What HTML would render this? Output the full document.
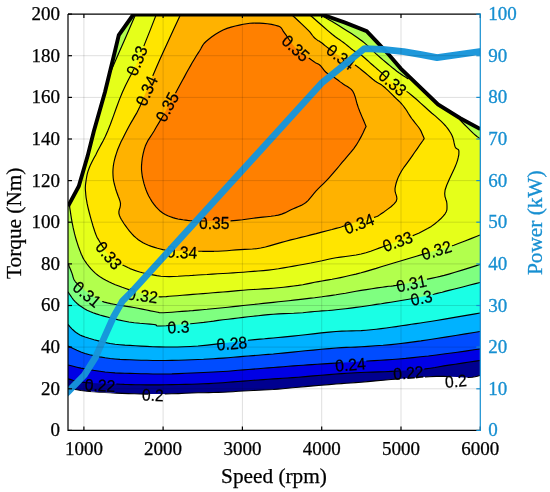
<!DOCTYPE html>
<html><head><meta charset="utf-8"><title>Efficiency map</title>
<style>html,body{margin:0;padding:0;background:#fff}svg{display:block}</style></head>
<body>
<svg width="550" height="492" viewBox="0 0 550 492">
<defs>
<clipPath id="fl"><polygon points="68.0,206.3 78.8,186.2 87.6,156.1 93.9,131.0 105.0,92.0 114.4,53.5 118.8,35.0 133.3,14.5 322.0,14.5 345.1,22.6 366.7,31.2 377.1,42.2 388.7,54.5 400.8,68.6 438.0,104.4 460.2,118.2 480.3,129.0 480.3,440.0 68.0,440.0"/></clipPath>
<clipPath id="ax"><rect x="68" y="14.1" width="412.3" height="416.29999999999995"/></clipPath>
<mask id="lm" maskUnits="userSpaceOnUse" x="0" y="0" width="550" height="492"><rect width="550" height="492" fill="#fff"/>
<rect transform="translate(136.6,60.7) rotate(-68)" x="-8.8" y="-7" width="25.0" height="14" fill="#000"/>
<rect transform="translate(146.5,90.8) rotate(-66)" x="-8.8" y="-7" width="25.0" height="14" fill="#000"/>
<rect transform="translate(167.0,107.0) rotate(-62)" x="-8.8" y="-7" width="25.0" height="14" fill="#000"/>
<rect transform="translate(295.8,48.2) rotate(42)" x="-8.8" y="-7" width="25.0" height="14" fill="#000"/>
<rect transform="translate(340.8,56.9) rotate(37)" x="-8.8" y="-7" width="25.0" height="14" fill="#000"/>
<rect transform="translate(392.7,82.7) rotate(40)" x="-8.8" y="-7" width="25.0" height="14" fill="#000"/>
<rect transform="translate(214.3,222.6) rotate(0)" x="-8.8" y="-7" width="25.0" height="14" fill="#000"/>
<rect transform="translate(182.0,252.0) rotate(3)" x="-8.8" y="-7" width="25.0" height="14" fill="#000"/>
<rect transform="translate(359.1,223.6) rotate(-20)" x="-8.8" y="-7" width="25.0" height="14" fill="#000"/>
<rect transform="translate(397.5,241.4) rotate(-20)" x="-8.8" y="-7" width="25.0" height="14" fill="#000"/>
<rect transform="translate(436.4,250.2) rotate(-17)" x="-8.8" y="-7" width="25.0" height="14" fill="#000"/>
<rect transform="translate(108.8,255.3) rotate(50)" x="-8.8" y="-7" width="25.0" height="14" fill="#000"/>
<rect transform="translate(87.1,294.3) rotate(40)" x="-8.8" y="-7" width="25.0" height="14" fill="#000"/>
<rect transform="translate(142.5,295.4) rotate(8)" x="-8.8" y="-7" width="25.0" height="14" fill="#000"/>
<rect transform="translate(178.4,326.8) rotate(-3)" x="-4.4" y="-7" width="16.3" height="14" fill="#000"/>
<rect transform="translate(411.3,283.4) rotate(-12)" x="-8.8" y="-7" width="25.0" height="14" fill="#000"/>
<rect transform="translate(421.3,297.9) rotate(-12)" x="-4.4" y="-7" width="16.3" height="14" fill="#000"/>
<rect transform="translate(231.9,343.3) rotate(-4)" x="-8.8" y="-7" width="25.0" height="14" fill="#000"/>
<rect transform="translate(350.4,364.5) rotate(-5)" x="-8.8" y="-7" width="25.0" height="14" fill="#000"/>
<rect transform="translate(100.1,385.2) rotate(3)" x="-8.8" y="-7" width="25.0" height="14" fill="#000"/>
<rect transform="translate(152.8,394.8) rotate(2)" x="-4.4" y="-7" width="16.3" height="14" fill="#000"/>
<rect transform="translate(408.3,372.7) rotate(-5)" x="-8.8" y="-7" width="25.0" height="14" fill="#000"/>
<rect transform="translate(455.9,381.0) rotate(-5)" x="-4.4" y="-7" width="16.3" height="14" fill="#000"/>
</mask>
</defs>
<rect width="550" height="492" fill="#fff"/>
<g clip-path="url(#ax)"><g clip-path="url(#fl)">
<polygon points="68.0,388.2 70.2,388.6 73.2,389.2 76.9,389.8 80.9,390.5 85.1,391.0 89.5,391.4 94.3,391.8 99.4,392.2 104.7,392.5 110.2,392.8 116.0,393.1 122.1,393.4 128.4,393.6 134.5,393.8 140.3,394.0 145.5,394.1 150.3,394.1 155.1,394.1 160.0,394.1 165.4,394.0 171.6,393.8 178.3,393.6 185.1,393.3 191.8,393.0 198.0,392.8 203.5,392.7 208.5,392.6 213.4,392.5 218.1,392.4 223.0,392.2 228.0,392.0 233.1,391.7 238.1,391.3 243.2,391.0 248.2,390.7 253.2,390.5 258.2,390.3 263.3,390.0 268.3,389.8 273.3,389.5 278.1,389.1 282.7,388.7 287.5,388.2 292.6,387.7 298.4,387.2 305.3,386.6 313.1,385.9 321.3,385.2 329.1,384.6 336.0,384.0 341.6,383.6 346.3,383.3 350.8,383.0 355.5,382.6 361.1,382.2 367.8,381.6 375.2,380.9 383.1,380.2 391.0,379.5 398.7,378.9 406.3,378.3 414.0,377.7 421.7,377.1 429.2,376.7 436.4,376.4 443.5,376.4 450.6,376.7 457.3,377.1 463.4,377.4 468.4,377.5 472.2,377.3 475.1,376.8 477.3,376.3 478.9,375.8 480.2,375.5 490.0,375.5 490.0,0.0 60.0,0.0 60.0,388.2" fill="#00008f"/>
<polygon points="68.0,378.9 70.1,379.4 72.9,380.2 76.3,381.0 80.4,381.9 85.0,382.5 90.6,382.9 97.1,383.3 104.0,383.6 110.7,383.8 116.4,384.0 120.8,384.2 124.3,384.4 127.5,384.5 131.0,384.6 135.3,384.7 140.6,384.8 146.4,384.8 152.6,384.8 159.0,384.8 165.4,384.7 171.9,384.6 178.6,384.5 185.4,384.4 191.9,384.2 198.0,384.0 203.5,383.8 208.5,383.6 213.4,383.3 218.1,383.0 223.0,382.7 228.0,382.3 233.1,381.9 238.1,381.5 243.2,381.1 248.2,380.7 253.2,380.3 258.2,380.0 263.3,379.6 268.3,379.3 273.3,378.9 278.1,378.6 282.7,378.3 287.5,378.0 292.6,377.6 298.4,377.2 305.3,376.6 313.1,375.9 321.3,375.2 329.1,374.6 336.0,374.0 341.7,373.6 346.7,373.3 351.3,373.0 356.0,372.7 361.1,372.5 366.7,372.3 372.6,372.1 378.6,371.9 384.9,371.7 391.2,371.4 397.9,371.0 405.0,370.6 412.1,370.1 418.9,369.5 425.1,368.9 430.4,368.2 435.0,367.5 439.3,366.7 443.8,365.9 448.9,365.1 455.2,364.2 462.3,363.1 469.4,362.0 475.7,361.1 480.0,360.5 490.0,360.5 490.0,0.0 60.0,0.0 60.0,378.9" fill="#0000e5"/>
<polygon points="68.0,365.0 70.2,365.5 73.2,366.3 76.9,367.2 80.9,368.1 85.1,368.9 89.6,369.7 94.6,370.5 99.8,371.3 105.1,372.0 110.2,372.5 115.1,372.9 120.0,373.1 124.9,373.3 130.0,373.4 135.3,373.5 141.0,373.7 146.9,373.8 152.9,374.0 159.1,374.0 165.4,374.0 171.9,373.9 178.6,373.6 185.4,373.3 191.9,373.0 198.0,372.7 203.5,372.5 208.5,372.3 213.4,372.0 218.1,371.8 223.0,371.5 228.0,371.2 233.1,370.8 238.1,370.3 243.2,369.9 248.2,369.5 253.2,369.1 258.2,368.7 263.3,368.3 268.3,367.9 273.3,367.5 278.3,367.1 283.3,366.7 288.4,366.3 293.4,365.9 298.4,365.5 303.1,365.2 307.5,364.9 312.0,364.6 317.2,364.3 323.4,363.9 331.2,363.4 340.2,362.8 349.8,362.2 359.1,361.5 367.4,361.0 374.4,360.6 380.5,360.2 386.3,359.9 392.2,359.5 398.7,359.0 405.7,358.4 413.0,357.6 420.6,356.8 428.4,356.0 436.4,355.0 445.4,353.8 455.5,352.5 465.4,351.1 474.0,349.8 480.0,349.0 490.0,349.0 490.0,0.0 60.0,0.0 60.0,365.0" fill="#004cff"/>
<polygon points="68.0,346.0 70.2,347.1 73.2,348.6 76.9,350.3 80.9,352.0 85.1,353.5 89.6,354.7 94.6,355.8 99.8,356.9 105.1,357.8 110.2,358.5 115.1,359.0 120.0,359.4 124.9,359.6 130.0,359.8 135.3,360.0 141.0,360.2 146.9,360.3 152.9,360.5 159.1,360.5 165.4,360.5 171.9,360.4 178.6,360.2 185.4,360.0 191.9,359.7 198.0,359.5 203.5,359.3 208.5,359.0 213.4,358.7 218.1,358.4 223.0,358.1 228.0,357.7 233.1,357.3 238.1,356.9 243.2,356.4 248.2,356.0 253.2,355.6 258.2,355.2 263.3,354.8 268.3,354.4 273.3,354.0 278.1,353.5 282.7,353.1 287.5,352.6 292.6,352.1 298.4,351.5 305.3,350.8 313.1,350.1 321.3,349.3 329.1,348.6 336.0,348.0 341.6,347.6 346.3,347.4 350.8,347.3 355.5,347.1 361.1,346.8 367.8,346.4 375.2,345.8 383.1,345.3 391.0,344.6 398.7,343.8 406.1,342.9 413.5,341.9 420.9,340.9 428.5,339.7 436.4,338.5 445.4,337.1 455.5,335.5 465.4,333.9 474.0,332.5 480.0,331.5 490.0,331.5 490.0,0.0 60.0,0.0 60.0,346.0" fill="#00b2ff"/>
<polygon points="68.0,324.5 69.0,325.6 70.3,327.1 71.9,328.8 73.7,330.5 75.4,332.0 76.9,333.1 78.4,334.1 80.0,335.0 82.1,335.9 85.1,337.0 89.1,338.3 94.0,339.7 99.4,341.1 104.9,342.5 110.2,343.5 115.1,344.2 120.0,344.7 124.9,345.1 130.0,345.4 135.3,345.7 141.0,346.1 146.9,346.4 152.9,346.7 159.1,346.9 165.4,347.0 171.5,347.0 177.4,347.0 183.6,346.8 190.3,346.5 198.0,346.0 207.3,345.1 218.0,343.9 229.1,342.6 239.5,341.3 248.2,340.3 254.8,339.6 260.0,339.1 264.5,338.8 268.7,338.4 273.3,338.0 278.1,337.5 282.7,337.1 287.5,336.6 292.6,336.1 298.4,335.5 305.3,334.7 313.1,333.9 321.3,332.9 329.1,332.1 336.0,331.5 341.8,331.1 346.9,331.0 351.7,330.9 356.3,330.8 361.1,330.6 366.1,330.2 371.1,329.7 376.2,329.2 381.2,328.6 386.2,328.0 391.2,327.3 396.2,326.6 401.3,325.8 406.3,325.1 411.3,324.3 416.0,323.6 420.5,323.0 425.0,322.3 430.2,321.5 436.4,320.5 444.6,319.1 454.6,317.4 464.8,315.6 473.8,314.1 480.0,313.0 490.0,313.0 490.0,0.0 60.0,0.0 60.0,324.5" fill="#1affe5"/>
<polygon points="68.0,291.8 68.9,293.2 70.2,295.2 71.8,297.5 73.5,299.8 75.4,301.9 77.4,303.7 79.5,305.5 81.9,307.1 84.4,308.7 87.1,310.2 90.0,311.5 93.0,312.7 96.3,313.9 99.8,315.0 103.8,316.1 108.3,317.3 113.2,318.6 118.5,319.9 123.7,321.0 128.9,322.0 134.2,322.7 139.8,323.3 145.3,323.7 150.2,324.1 154.0,324.5 156.0,324.9 156.4,325.4 156.5,325.8 157.4,326.0 160.4,326.0 166.1,325.7 173.8,325.1 182.4,324.4 190.8,323.7 198.0,323.0 203.8,322.4 208.9,321.7 213.6,321.1 218.2,320.4 223.0,319.8 228.0,319.2 233.1,318.6 238.1,318.0 243.2,317.4 248.2,316.8 253.2,316.2 258.2,315.7 263.3,315.1 268.3,314.6 273.3,314.2 278.4,313.9 283.6,313.6 288.7,313.5 293.7,313.3 298.4,313.0 302.8,312.7 306.9,312.3 310.8,311.9 314.6,311.5 318.4,311.2 322.0,310.9 325.3,310.7 328.5,310.5 332.0,310.2 336.0,309.8 340.5,309.3 345.5,308.7 350.7,308.1 356.0,307.4 361.1,306.7 366.2,306.0 371.3,305.2 376.3,304.4 381.3,303.7 386.2,302.9 390.8,302.2 395.3,301.5 399.7,300.8 404.2,300.0 408.8,299.2 413.8,298.3 419.1,297.2 424.4,296.2 429.4,295.1 433.8,294.2 437.2,293.4 439.8,292.8 442.2,292.2 445.0,291.4 448.9,290.4 454.6,289.0 461.7,287.2 469.0,285.3 475.5,283.6 480.0,282.5 490.0,282.5 490.0,0.0 60.0,0.0 60.0,291.8" fill="#7fff80"/>
<polygon points="68.0,263.4 68.6,264.8 69.3,266.8 70.3,269.0 71.2,271.3 72.0,273.4 72.6,275.2 73.0,276.8 73.5,278.4 74.2,280.0 75.4,281.8 77.2,283.7 79.3,285.8 81.8,287.9 84.4,290.0 87.0,292.0 89.7,294.0 92.4,295.9 95.3,297.8 98.3,299.6 101.3,301.0 104.4,302.1 107.5,302.9 110.7,303.6 113.9,304.2 117.2,304.8 120.4,305.4 123.7,305.9 126.9,306.4 130.3,306.9 133.9,307.5 137.9,308.3 142.2,309.1 146.6,310.0 150.6,310.9 154.0,311.5 156.4,312.0 157.9,312.3 159.3,312.6 160.9,312.7 163.5,312.7 167.3,312.5 172.0,312.2 177.1,311.8 181.9,311.4 185.9,311.1 188.8,310.9 190.9,310.7 192.7,310.6 194.9,310.4 198.0,310.1 202.2,309.7 207.1,309.3 212.4,308.7 217.8,308.2 223.0,307.7 228.0,307.2 233.1,306.6 238.1,306.1 243.2,305.5 248.2,305.0 253.2,304.5 258.2,304.0 263.3,303.4 268.3,302.9 273.3,302.4 278.4,301.8 283.6,301.3 288.7,300.7 293.7,300.1 298.4,299.6 302.8,299.1 306.9,298.6 310.8,298.1 314.6,297.7 318.4,297.2 322.0,296.8 325.3,296.3 328.5,295.9 332.0,295.4 336.0,294.8 340.5,294.0 345.5,293.2 350.7,292.2 356.0,291.3 361.1,290.4 366.4,289.6 371.9,288.7 377.2,287.9 382.1,287.2 386.2,286.6 388.8,286.3 390.3,286.2 391.4,286.1 393.1,285.9 396.2,285.4 401.3,284.4 407.7,283.2 414.7,281.8 421.6,280.4 427.6,279.1 432.3,278.1 436.4,277.2 440.2,276.4 444.2,275.4 448.9,274.1 455.0,272.3 462.1,270.1 469.3,267.9 475.6,265.9 480.0,264.5 490.0,264.5 490.0,0.0 60.0,0.0 60.0,263.4" fill="#b2ff4d"/>
<polygon points="135.4,14.0 135.7,13.5 136.3,12.2 136.7,11.5 136.3,12.5 134.6,16.7 130.7,25.7 125.1,38.7 118.8,53.0 113.2,66.1 109.2,75.3 107.3,79.9 106.7,81.7 106.9,81.7 107.4,81.1 107.5,81.0 100.0,81.0 60.0,200.0 69.5,205.9 69.8,208.1 70.3,211.2 70.8,214.7 71.4,218.4 72.0,221.8 72.6,224.9 73.2,227.9 73.9,230.9 74.6,233.9 75.4,236.9 76.3,240.0 77.3,243.2 78.3,246.3 79.4,249.2 80.4,251.9 81.3,254.2 82.2,256.1 83.0,257.9 84.1,259.7 85.4,261.7 87.0,264.0 88.9,266.4 91.0,268.9 93.2,271.2 95.5,273.4 97.9,275.3 100.4,277.1 103.1,278.7 105.9,280.3 108.8,281.8 112.0,283.3 115.3,284.7 118.8,286.0 122.2,287.3 125.6,288.5 128.8,289.6 132.0,290.7 135.2,291.7 138.3,292.6 141.5,293.5 144.8,294.3 148.0,295.1 151.3,295.9 154.6,296.4 157.8,296.8 160.7,296.9 163.4,296.8 166.2,296.6 169.3,296.3 172.9,296.0 177.3,295.7 182.2,295.3 187.5,294.9 192.8,294.4 198.0,294.0 203.0,293.6 208.0,293.2 213.0,292.8 218.0,292.4 223.0,292.0 228.0,291.6 233.1,291.1 238.1,290.6 243.2,290.2 248.2,289.8 253.2,289.5 258.2,289.2 263.3,288.9 268.3,288.6 273.3,288.2 278.4,287.7 283.6,287.2 288.7,286.6 293.7,286.0 298.4,285.4 302.8,284.7 306.9,283.9 310.8,283.1 314.6,282.3 318.4,281.6 322.0,281.0 325.3,280.4 328.5,279.9 332.0,279.3 336.0,278.5 340.5,277.6 345.5,276.5 350.7,275.3 356.0,274.1 361.1,272.8 366.1,271.4 371.1,269.9 376.2,268.4 381.2,266.8 386.2,265.3 391.2,263.8 396.2,262.3 401.3,260.8 406.3,259.3 411.3,257.8 416.4,256.2 421.7,254.6 426.9,253.1 431.9,251.6 436.4,250.2 440.2,249.1 443.5,248.3 446.6,247.4 450.0,246.5 453.9,245.2 459.0,243.3 465.0,241.0 471.0,238.6 476.3,236.5 480.0,235.0 490.0,235.0 490.0,138.6 480.0,138.6 479.3,138.1 478.3,137.4 477.0,136.5 475.5,135.3 473.6,133.6 471.0,131.1 467.8,127.9 464.4,124.5 461.5,121.5 459.4,119.4 470.0,100.0 420.0,70.0 408.5,79.0 407.2,78.2 405.4,77.1 403.3,75.8 401.1,74.3 398.9,72.8 396.8,71.2 394.7,69.5 392.4,67.8 390.2,65.9 387.9,64.0 385.5,62.0 383.0,59.9 380.5,57.7 378.1,55.6 375.8,53.6 373.8,51.7 371.9,49.9 370.2,48.1 368.4,46.4 366.4,44.6 364.4,42.9 362.4,41.3 360.3,39.7 357.9,38.0 355.0,36.0 351.4,33.6 347.3,31.0 342.9,28.2 338.7,25.6 335.0,23.3 331.7,21.3 328.5,19.5 325.6,17.8 323.2,16.5 321.5,15.5" fill="#e5ff1a"/>
<polygon points="156.5,14.0 153.9,20.6 150.2,30.1 145.9,40.9 141.6,51.6 137.8,60.7 134.5,67.8 131.4,74.0 128.4,79.7 125.5,85.5 122.5,92.0 119.4,99.6 116.3,108.0 113.3,116.4 110.4,124.3 107.7,131.0 105.4,136.3 103.3,140.5 101.3,144.1 99.5,147.5 97.6,151.1 95.7,154.9 93.7,158.6 91.9,162.1 90.2,165.5 88.9,168.7 87.9,171.6 87.2,174.2 86.7,176.7 86.3,179.0 86.0,181.2 85.7,183.1 85.5,184.8 85.4,186.3 85.3,188.0 85.4,190.0 85.6,192.3 85.8,194.9 86.1,197.6 86.6,200.4 87.1,203.4 87.8,206.6 88.6,210.0 89.5,213.5 90.4,216.9 91.3,220.1 92.2,223.1 93.0,226.0 93.9,228.8 94.7,231.3 95.5,233.5 96.1,235.1 96.6,236.3 97.0,237.2 97.7,238.4 98.8,240.2 100.3,242.8 102.2,245.9 104.3,249.3 106.5,252.5 108.8,255.3 111.2,257.5 113.7,259.5 116.4,261.2 118.9,262.7 121.4,264.2 123.7,265.5 125.8,266.6 127.8,267.6 130.0,268.6 132.3,269.5 134.7,270.4 137.2,271.2 139.7,272.0 142.5,272.8 145.6,273.5 149.1,274.2 152.8,274.9 156.8,275.6 160.9,276.2 165.0,276.5 169.2,276.6 173.7,276.5 178.1,276.3 182.3,276.0 185.9,275.8 188.7,275.7 190.8,275.5 192.7,275.4 194.9,275.2 198.0,275.0 202.2,274.7 207.1,274.5 212.4,274.1 217.8,273.8 223.0,273.5 228.0,273.2 233.1,272.9 238.1,272.5 243.2,272.2 248.2,271.8 253.2,271.4 258.2,271.0 263.3,270.6 268.3,270.1 273.3,269.5 278.4,268.8 283.6,267.9 288.7,267.0 293.7,266.1 298.4,265.3 302.8,264.5 306.9,263.7 310.8,263.0 314.6,262.2 318.4,261.5 322.0,260.8 325.3,260.0 328.5,259.3 332.0,258.5 336.0,257.8 340.6,257.1 345.6,256.5 350.9,255.8 356.1,255.0 361.1,254.0 365.9,252.7 370.7,251.2 375.4,249.5 379.8,247.9 383.7,246.5 387.0,245.3 389.9,244.3 392.4,243.3 394.9,242.4 397.5,241.4 400.2,240.5 402.7,239.6 405.3,238.8 408.1,237.7 411.3,236.4 415.0,234.8 419.2,232.9 423.4,230.8 427.6,228.6 431.3,226.4 434.6,224.0 437.8,221.4 440.7,218.8 443.2,216.2 445.1,213.8 446.3,211.7 446.9,209.8 447.0,207.9 447.0,206.0 446.9,203.8 446.6,201.5 445.8,199.2 445.0,196.6 444.7,193.6 445.1,190.0 446.7,185.3 449.1,179.7 451.9,173.8 454.5,168.2 456.4,163.6 457.6,160.1 458.3,157.2 458.8,154.8 458.9,152.8 458.9,151.1 458.6,149.9 457.8,149.2 456.9,148.8 456.0,148.2 455.2,147.0 454.6,145.1 454.1,142.9 453.6,140.3 452.9,137.8 451.9,135.3 450.7,133.0 449.2,130.7 447.6,128.4 445.7,126.0 443.5,123.6 441.0,121.1 438.2,118.6 435.2,115.9 431.9,113.2 428.5,110.2 424.7,106.8 420.6,103.1 416.4,99.3 412.2,95.7 408.4,92.6 404.9,90.2 401.7,88.2 398.6,86.4 395.6,84.7 392.7,82.7 389.8,80.3 386.8,77.8 384.0,75.1 381.4,72.7 379.1,70.6 377.2,69.0 375.7,67.6 374.3,66.5 372.9,65.3 371.4,64.0 369.6,62.4 367.8,60.7 365.9,59.0 363.9,57.3 362.1,55.8 360.3,54.6 358.6,53.6 356.9,52.6 355.2,51.6 353.4,50.4 351.5,49.0 349.6,47.4 347.6,45.8 345.6,44.1 343.5,42.5 341.5,41.1 339.7,39.8 337.7,38.5 335.3,36.8 332.4,34.5 328.4,31.1 323.4,26.8 318.2,22.3 313.7,18.3 310.5,15.5" fill="#ffe500"/>
<polygon points="180.8,14.0 177.9,20.2 173.8,29.1 169.1,39.2 164.4,49.4 160.4,58.2 157.1,65.7 154.1,72.7 151.3,79.3 148.8,85.3 146.5,90.8 144.5,95.6 142.8,99.7 141.3,103.3 139.8,106.7 138.2,110.1 136.5,113.4 134.7,116.4 133.0,119.4 131.2,122.4 129.3,125.8 127.3,129.6 125.1,133.7 123.0,137.9 120.9,142.0 119.2,145.9 117.7,149.5 116.5,153.1 115.4,156.5 114.5,159.8 113.8,163.0 113.3,166.2 113.0,169.2 112.9,172.2 113.0,175.1 113.2,178.0 113.6,180.8 114.2,183.5 114.9,186.1 115.6,188.7 116.4,191.2 117.3,193.7 118.2,196.3 119.2,198.7 120.0,201.1 120.5,203.4 120.4,205.5 120.0,207.6 119.3,209.5 118.9,211.4 118.9,213.4 119.4,215.4 120.2,217.3 121.2,219.3 122.5,221.3 123.9,223.5 125.6,225.9 127.5,228.5 129.5,231.2 131.7,233.7 133.9,236.0 136.1,237.9 138.3,239.7 140.6,241.2 143.0,242.7 145.6,244.0 148.4,245.2 151.4,246.4 154.5,247.4 157.5,248.3 160.4,249.0 162.8,249.6 165.0,250.0 167.1,250.3 169.6,250.6 172.9,250.8 177.2,251.0 182.3,251.1 187.7,251.1 193.1,251.2 198.0,251.2 202.3,251.3 206.2,251.3 210.1,251.3 213.9,251.3 218.0,251.2 222.4,251.0 227.0,250.7 231.6,250.3 236.2,249.9 240.6,249.6 244.7,249.4 248.6,249.2 252.4,249.0 256.4,248.7 260.7,248.0 265.4,247.0 270.4,245.6 275.5,244.1 280.7,242.6 285.8,241.2 290.8,239.9 295.8,238.7 300.9,237.4 305.9,236.2 310.9,234.9 316.2,233.6 321.7,232.1 327.1,230.7 332.0,229.5 336.0,228.4 338.7,227.7 340.5,227.2 341.8,226.8 343.1,226.3 345.0,225.7 347.5,224.8 350.3,223.8 353.2,222.7 356.2,221.7 359.1,220.8 362.1,220.1 365.2,219.4 368.3,218.8 371.1,218.3 373.6,217.6 375.4,217.0 376.8,216.5 378.0,216.0 379.3,215.1 381.2,213.8 384.0,211.9 387.4,209.4 391.0,206.7 394.1,203.9 396.2,201.3 396.9,198.8 396.6,196.4 395.8,193.9 395.1,191.4 395.0,188.7 395.5,185.9 396.2,183.0 397.2,180.0 398.4,176.9 400.0,173.7 402.0,170.3 404.3,166.8 406.9,163.3 409.6,159.7 412.1,156.1 414.7,152.3 417.5,148.3 420.2,144.3 422.6,141.0 424.2,138.6 423.7,137.3 422.9,135.5 422.0,133.4 421.0,131.1 419.8,129.0 418.4,127.0 416.8,125.0 415.1,122.9 413.4,120.7 411.7,118.5 410.1,116.1 408.4,113.5 406.8,110.8 405.1,108.3 403.4,106.0 401.7,104.0 400.0,102.2 398.3,100.5 396.5,98.8 394.6,97.0 392.5,94.9 390.2,92.7 387.9,90.4 385.7,88.3 383.6,86.5 381.8,85.1 380.1,84.1 378.6,83.3 376.9,82.3 375.0,81.0 372.8,79.3 370.4,77.2 367.9,75.1 365.4,73.0 363.2,71.2 361.3,69.7 359.7,68.4 358.2,67.2 356.5,65.9 354.5,64.6 352.1,63.2 349.4,61.7 346.5,60.2 343.6,58.6 340.8,56.9 337.9,55.0 334.9,52.9 331.9,50.7 329.2,48.7 327.0,47.1 325.4,45.9 324.3,45.0 323.4,44.2 322.6,43.5 321.6,42.7 320.4,41.9 319.1,41.1 317.7,40.4 316.4,39.4 315.0,38.3 313.7,37.0 312.5,35.5 311.3,33.8 309.8,31.9 307.8,29.8 305.0,27.1 301.6,23.8 298.0,20.5 294.8,17.5 292.6,15.5" fill="#ffb200"/>
<polygon points="366.1,126.5 364.8,129.1 363.1,132.7 361.0,136.9 358.6,141.2 356.2,145.2 353.6,148.8 350.7,152.4 347.7,155.9 344.8,159.4 341.9,162.7 339.2,166.0 336.6,169.1 334.0,172.2 331.4,175.2 328.8,178.1 326.2,180.9 323.5,183.6 320.8,186.2 318.3,188.7 315.9,191.2 313.8,193.7 311.8,196.1 309.9,198.4 308.0,200.6 305.9,202.5 303.6,204.1 301.2,205.4 298.6,206.5 296.0,207.6 293.3,208.8 290.5,210.1 287.7,211.5 284.8,212.9 281.7,214.1 278.3,215.1 274.7,215.8 271.0,216.3 267.0,216.7 262.8,217.1 258.2,217.6 253.2,218.3 247.9,219.0 242.4,219.8 236.6,220.4 230.6,220.9 224.1,221.1 217.0,221.2 209.8,221.1 203.3,221.0 198.0,220.9 194.2,220.8 191.5,220.7 189.5,220.6 187.6,220.4 185.4,220.1 182.9,219.8 180.4,219.4 177.9,219.0 175.4,218.4 172.9,217.6 170.4,216.7 167.8,215.7 165.2,214.4 162.7,213.0 160.4,211.3 158.2,209.2 156.0,206.9 154.0,204.3 152.0,201.6 150.3,198.8 148.7,196.0 147.3,193.1 146.1,190.0 145.0,186.9 144.0,183.7 143.2,180.4 142.4,177.0 141.9,173.4 141.5,169.8 141.5,166.1 141.8,162.2 142.3,158.0 143.1,153.9 144.1,149.8 145.3,146.1 146.7,142.9 148.2,140.1 150.0,137.4 151.9,134.5 154.1,131.0 156.5,126.8 159.3,122.1 162.2,117.2 165.1,112.1 168.0,107.0 170.9,101.8 173.9,96.3 176.8,90.8 179.6,85.5 182.2,80.8 184.5,76.6 186.5,72.8 188.5,69.3 190.3,66.1 192.0,63.0 193.7,60.2 195.2,57.7 196.7,55.3 198.1,53.1 199.5,51.0 200.7,49.0 201.7,47.1 202.7,45.3 204.0,43.5 206.0,41.5 208.7,39.2 211.9,36.8 215.5,34.3 219.3,32.0 223.1,30.0 227.0,28.4 231.1,27.1 235.3,26.0 239.4,25.1 243.2,24.3 246.7,23.7 249.9,23.3 253.0,23.1 256.1,23.0 259.5,23.1 263.3,23.4 267.4,23.8 271.6,24.4 275.3,25.2 278.3,26.1 280.3,27.1 281.5,28.2 282.3,29.5 283.2,31.1 284.6,33.1 286.5,35.7 288.5,38.7 290.8,42.0 293.2,45.3 295.8,48.2 298.7,50.8 302.1,53.4 305.5,55.8 308.5,57.8 310.9,59.5 312.4,60.6 313.3,61.2 313.8,61.6 314.3,61.9 315.0,62.4 316.0,63.0 317.1,63.5 318.2,64.1 319.4,64.8 320.5,65.7 321.5,66.8 322.5,68.2 323.6,69.6 324.7,71.0 326.0,72.3 327.5,73.5 329.2,74.5 331.1,75.6 332.9,76.7 334.7,77.8 336.4,79.0 338.2,80.3 339.9,81.6 341.7,82.9 343.5,84.3 345.4,85.5 347.4,86.6 349.4,87.9 351.3,89.4 352.9,91.4 354.2,94.1 355.3,97.2 356.2,100.7 357.2,104.3 358.4,107.9 359.9,111.8 361.7,116.1 363.5,120.3 365.0,123.9 366.1,126.5" fill="#ff8000"/>
</g>
<g mask="url(#lm)"><g fill="none" stroke="#000" stroke-width="1.15" stroke-linejoin="round" clip-path="url(#fl)">
<polyline points="68.0,388.2 70.2,388.6 73.2,389.2 76.9,389.8 80.9,390.5 85.1,391.0 89.5,391.4 94.3,391.8 99.4,392.2 104.7,392.5 110.2,392.8 116.0,393.1 122.1,393.4 128.4,393.6 134.5,393.8 140.3,394.0 145.5,394.1 150.3,394.1 155.1,394.1 160.0,394.1 165.4,394.0 171.6,393.8 178.3,393.6 185.1,393.3 191.8,393.0 198.0,392.8 203.5,392.7 208.5,392.6 213.4,392.5 218.1,392.4 223.0,392.2 228.0,392.0 233.1,391.7 238.1,391.3 243.2,391.0 248.2,390.7 253.2,390.5 258.2,390.3 263.3,390.0 268.3,389.8 273.3,389.5 278.1,389.1 282.7,388.7 287.5,388.2 292.6,387.7 298.4,387.2 305.3,386.6 313.1,385.9 321.3,385.2 329.1,384.6 336.0,384.0 341.6,383.6 346.3,383.3 350.8,383.0 355.5,382.6 361.1,382.2 367.8,381.6 375.2,380.9 383.1,380.2 391.0,379.5 398.7,378.9 406.3,378.3 414.0,377.7 421.7,377.1 429.2,376.7 436.4,376.4 443.5,376.4 450.6,376.7 457.3,377.1 463.4,377.4 468.4,377.5 472.2,377.3 475.1,376.8 477.3,376.3 478.9,375.8 480.2,375.5"/>
<polyline points="68.0,378.9 70.1,379.4 72.9,380.2 76.3,381.0 80.4,381.9 85.0,382.5 90.6,382.9 97.1,383.3 104.0,383.6 110.7,383.8 116.4,384.0 120.8,384.2 124.3,384.4 127.5,384.5 131.0,384.6 135.3,384.7 140.6,384.8 146.4,384.8 152.6,384.8 159.0,384.8 165.4,384.7 171.9,384.6 178.6,384.5 185.4,384.4 191.9,384.2 198.0,384.0 203.5,383.8 208.5,383.6 213.4,383.3 218.1,383.0 223.0,382.7 228.0,382.3 233.1,381.9 238.1,381.5 243.2,381.1 248.2,380.7 253.2,380.3 258.2,380.0 263.3,379.6 268.3,379.3 273.3,378.9 278.1,378.6 282.7,378.3 287.5,378.0 292.6,377.6 298.4,377.2 305.3,376.6 313.1,375.9 321.3,375.2 329.1,374.6 336.0,374.0 341.7,373.6 346.7,373.3 351.3,373.0 356.0,372.7 361.1,372.5 366.7,372.3 372.6,372.1 378.6,371.9 384.9,371.7 391.2,371.4 397.9,371.0 405.0,370.6 412.1,370.1 418.9,369.5 425.1,368.9 430.4,368.2 435.0,367.5 439.3,366.7 443.8,365.9 448.9,365.1 455.2,364.2 462.3,363.1 469.4,362.0 475.7,361.1 480.0,360.5"/>
<polyline points="68.0,365.0 70.2,365.5 73.2,366.3 76.9,367.2 80.9,368.1 85.1,368.9 89.6,369.7 94.6,370.5 99.8,371.3 105.1,372.0 110.2,372.5 115.1,372.9 120.0,373.1 124.9,373.3 130.0,373.4 135.3,373.5 141.0,373.7 146.9,373.8 152.9,374.0 159.1,374.0 165.4,374.0 171.9,373.9 178.6,373.6 185.4,373.3 191.9,373.0 198.0,372.7 203.5,372.5 208.5,372.3 213.4,372.0 218.1,371.8 223.0,371.5 228.0,371.2 233.1,370.8 238.1,370.3 243.2,369.9 248.2,369.5 253.2,369.1 258.2,368.7 263.3,368.3 268.3,367.9 273.3,367.5 278.3,367.1 283.3,366.7 288.4,366.3 293.4,365.9 298.4,365.5 303.1,365.2 307.5,364.9 312.0,364.6 317.2,364.3 323.4,363.9 331.2,363.4 340.2,362.8 349.8,362.2 359.1,361.5 367.4,361.0 374.4,360.6 380.5,360.2 386.3,359.9 392.2,359.5 398.7,359.0 405.7,358.4 413.0,357.6 420.6,356.8 428.4,356.0 436.4,355.0 445.4,353.8 455.5,352.5 465.4,351.1 474.0,349.8 480.0,349.0"/>
<polyline points="68.0,346.0 70.2,347.1 73.2,348.6 76.9,350.3 80.9,352.0 85.1,353.5 89.6,354.7 94.6,355.8 99.8,356.9 105.1,357.8 110.2,358.5 115.1,359.0 120.0,359.4 124.9,359.6 130.0,359.8 135.3,360.0 141.0,360.2 146.9,360.3 152.9,360.5 159.1,360.5 165.4,360.5 171.9,360.4 178.6,360.2 185.4,360.0 191.9,359.7 198.0,359.5 203.5,359.3 208.5,359.0 213.4,358.7 218.1,358.4 223.0,358.1 228.0,357.7 233.1,357.3 238.1,356.9 243.2,356.4 248.2,356.0 253.2,355.6 258.2,355.2 263.3,354.8 268.3,354.4 273.3,354.0 278.1,353.5 282.7,353.1 287.5,352.6 292.6,352.1 298.4,351.5 305.3,350.8 313.1,350.1 321.3,349.3 329.1,348.6 336.0,348.0 341.6,347.6 346.3,347.4 350.8,347.3 355.5,347.1 361.1,346.8 367.8,346.4 375.2,345.8 383.1,345.3 391.0,344.6 398.7,343.8 406.1,342.9 413.5,341.9 420.9,340.9 428.5,339.7 436.4,338.5 445.4,337.1 455.5,335.5 465.4,333.9 474.0,332.5 480.0,331.5"/>
<polyline points="68.0,324.5 69.0,325.6 70.3,327.1 71.9,328.8 73.7,330.5 75.4,332.0 76.9,333.1 78.4,334.1 80.0,335.0 82.1,335.9 85.1,337.0 89.1,338.3 94.0,339.7 99.4,341.1 104.9,342.5 110.2,343.5 115.1,344.2 120.0,344.7 124.9,345.1 130.0,345.4 135.3,345.7 141.0,346.1 146.9,346.4 152.9,346.7 159.1,346.9 165.4,347.0 171.5,347.0 177.4,347.0 183.6,346.8 190.3,346.5 198.0,346.0 207.3,345.1 218.0,343.9 229.1,342.6 239.5,341.3 248.2,340.3 254.8,339.6 260.0,339.1 264.5,338.8 268.7,338.4 273.3,338.0 278.1,337.5 282.7,337.1 287.5,336.6 292.6,336.1 298.4,335.5 305.3,334.7 313.1,333.9 321.3,332.9 329.1,332.1 336.0,331.5 341.8,331.1 346.9,331.0 351.7,330.9 356.3,330.8 361.1,330.6 366.1,330.2 371.1,329.7 376.2,329.2 381.2,328.6 386.2,328.0 391.2,327.3 396.2,326.6 401.3,325.8 406.3,325.1 411.3,324.3 416.0,323.6 420.5,323.0 425.0,322.3 430.2,321.5 436.4,320.5 444.6,319.1 454.6,317.4 464.8,315.6 473.8,314.1 480.0,313.0"/>
<polyline points="68.0,291.8 68.9,293.2 70.2,295.2 71.8,297.5 73.5,299.8 75.4,301.9 77.4,303.7 79.5,305.5 81.9,307.1 84.4,308.7 87.1,310.2 90.0,311.5 93.0,312.7 96.3,313.9 99.8,315.0 103.8,316.1 108.3,317.3 113.2,318.6 118.5,319.9 123.7,321.0 128.9,322.0 134.2,322.7 139.8,323.3 145.3,323.7 150.2,324.1 154.0,324.5 156.0,324.9 156.4,325.4 156.5,325.8 157.4,326.0 160.4,326.0 166.1,325.7 173.8,325.1 182.4,324.4 190.8,323.7 198.0,323.0 203.8,322.4 208.9,321.7 213.6,321.1 218.2,320.4 223.0,319.8 228.0,319.2 233.1,318.6 238.1,318.0 243.2,317.4 248.2,316.8 253.2,316.2 258.2,315.7 263.3,315.1 268.3,314.6 273.3,314.2 278.4,313.9 283.6,313.6 288.7,313.5 293.7,313.3 298.4,313.0 302.8,312.7 306.9,312.3 310.8,311.9 314.6,311.5 318.4,311.2 322.0,310.9 325.3,310.7 328.5,310.5 332.0,310.2 336.0,309.8 340.5,309.3 345.5,308.7 350.7,308.1 356.0,307.4 361.1,306.7 366.2,306.0 371.3,305.2 376.3,304.4 381.3,303.7 386.2,302.9 390.8,302.2 395.3,301.5 399.7,300.8 404.2,300.0 408.8,299.2 413.8,298.3 419.1,297.2 424.4,296.2 429.4,295.1 433.8,294.2 437.2,293.4 439.8,292.8 442.2,292.2 445.0,291.4 448.9,290.4 454.6,289.0 461.7,287.2 469.0,285.3 475.5,283.6 480.0,282.5"/>
<polyline points="68.0,263.4 68.6,264.8 69.3,266.8 70.3,269.0 71.2,271.3 72.0,273.4 72.6,275.2 73.0,276.8 73.5,278.4 74.2,280.0 75.4,281.8 77.2,283.7 79.3,285.8 81.8,287.9 84.4,290.0 87.0,292.0 89.7,294.0 92.4,295.9 95.3,297.8 98.3,299.6 101.3,301.0 104.4,302.1 107.5,302.9 110.7,303.6 113.9,304.2 117.2,304.8 120.4,305.4 123.7,305.9 126.9,306.4 130.3,306.9 133.9,307.5 137.9,308.3 142.2,309.1 146.6,310.0 150.6,310.9 154.0,311.5 156.4,312.0 157.9,312.3 159.3,312.6 160.9,312.7 163.5,312.7 167.3,312.5 172.0,312.2 177.1,311.8 181.9,311.4 185.9,311.1 188.8,310.9 190.9,310.7 192.7,310.6 194.9,310.4 198.0,310.1 202.2,309.7 207.1,309.3 212.4,308.7 217.8,308.2 223.0,307.7 228.0,307.2 233.1,306.6 238.1,306.1 243.2,305.5 248.2,305.0 253.2,304.5 258.2,304.0 263.3,303.4 268.3,302.9 273.3,302.4 278.4,301.8 283.6,301.3 288.7,300.7 293.7,300.1 298.4,299.6 302.8,299.1 306.9,298.6 310.8,298.1 314.6,297.7 318.4,297.2 322.0,296.8 325.3,296.3 328.5,295.9 332.0,295.4 336.0,294.8 340.5,294.0 345.5,293.2 350.7,292.2 356.0,291.3 361.1,290.4 366.4,289.6 371.9,288.7 377.2,287.9 382.1,287.2 386.2,286.6 388.8,286.3 390.3,286.2 391.4,286.1 393.1,285.9 396.2,285.4 401.3,284.4 407.7,283.2 414.7,281.8 421.6,280.4 427.6,279.1 432.3,278.1 436.4,277.2 440.2,276.4 444.2,275.4 448.9,274.1 455.0,272.3 462.1,270.1 469.3,267.9 475.6,265.9 480.0,264.5"/>
<polyline points="135.4,14.0 135.7,13.5 136.3,12.2 136.7,11.5 136.3,12.5 134.6,16.7 130.7,25.7 125.1,38.7 118.8,53.0 113.2,66.1 109.2,75.3 107.3,79.9 106.7,81.7 106.9,81.7 107.4,81.1 107.5,81.0"/>
<polyline points="69.5,205.9 69.8,208.1 70.3,211.2 70.8,214.7 71.4,218.4 72.0,221.8 72.6,224.9 73.2,227.9 73.9,230.9 74.6,233.9 75.4,236.9 76.3,240.0 77.3,243.2 78.3,246.3 79.4,249.2 80.4,251.9 81.3,254.2 82.2,256.1 83.0,257.9 84.1,259.7 85.4,261.7 87.0,264.0 88.9,266.4 91.0,268.9 93.2,271.2 95.5,273.4 97.9,275.3 100.4,277.1 103.1,278.7 105.9,280.3 108.8,281.8 112.0,283.3 115.3,284.7 118.8,286.0 122.2,287.3 125.6,288.5 128.8,289.6 132.0,290.7 135.2,291.7 138.3,292.6 141.5,293.5 144.8,294.3 148.0,295.1 151.3,295.9 154.6,296.4 157.8,296.8 160.7,296.9 163.4,296.8 166.2,296.6 169.3,296.3 172.9,296.0 177.3,295.7 182.2,295.3 187.5,294.9 192.8,294.4 198.0,294.0 203.0,293.6 208.0,293.2 213.0,292.8 218.0,292.4 223.0,292.0 228.0,291.6 233.1,291.1 238.1,290.6 243.2,290.2 248.2,289.8 253.2,289.5 258.2,289.2 263.3,288.9 268.3,288.6 273.3,288.2 278.4,287.7 283.6,287.2 288.7,286.6 293.7,286.0 298.4,285.4 302.8,284.7 306.9,283.9 310.8,283.1 314.6,282.3 318.4,281.6 322.0,281.0 325.3,280.4 328.5,279.9 332.0,279.3 336.0,278.5 340.5,277.6 345.5,276.5 350.7,275.3 356.0,274.1 361.1,272.8 366.1,271.4 371.1,269.9 376.2,268.4 381.2,266.8 386.2,265.3 391.2,263.8 396.2,262.3 401.3,260.8 406.3,259.3 411.3,257.8 416.4,256.2 421.7,254.6 426.9,253.1 431.9,251.6 436.4,250.2 440.2,249.1 443.5,248.3 446.6,247.4 450.0,246.5 453.9,245.2 459.0,243.3 465.0,241.0 471.0,238.6 476.3,236.5 480.0,235.0"/>
<polyline points="480.0,138.6 479.3,138.1 478.3,137.4 477.0,136.5 475.5,135.3 473.6,133.6 471.0,131.1 467.8,127.9 464.4,124.5 461.5,121.5 459.4,119.4"/>
<polyline points="408.5,79.0 407.2,78.2 405.4,77.1 403.3,75.8 401.1,74.3 398.9,72.8 396.8,71.2 394.7,69.5 392.4,67.8 390.2,65.9 387.9,64.0 385.5,62.0 383.0,59.9 380.5,57.7 378.1,55.6 375.8,53.6 373.8,51.7 371.9,49.9 370.2,48.1 368.4,46.4 366.4,44.6 364.4,42.9 362.4,41.3 360.3,39.7 357.9,38.0 355.0,36.0 351.4,33.6 347.3,31.0 342.9,28.2 338.7,25.6 335.0,23.3 331.7,21.3 328.5,19.5 325.6,17.8 323.2,16.5 321.5,15.5"/>
<polyline points="156.5,14.0 153.9,20.6 150.2,30.1 145.9,40.9 141.6,51.6 137.8,60.7 134.5,67.8 131.4,74.0 128.4,79.7 125.5,85.5 122.5,92.0 119.4,99.6 116.3,108.0 113.3,116.4 110.4,124.3 107.7,131.0 105.4,136.3 103.3,140.5 101.3,144.1 99.5,147.5 97.6,151.1 95.7,154.9 93.7,158.6 91.9,162.1 90.2,165.5 88.9,168.7 87.9,171.6 87.2,174.2 86.7,176.7 86.3,179.0 86.0,181.2 85.7,183.1 85.5,184.8 85.4,186.3 85.3,188.0 85.4,190.0 85.6,192.3 85.8,194.9 86.1,197.6 86.6,200.4 87.1,203.4 87.8,206.6 88.6,210.0 89.5,213.5 90.4,216.9 91.3,220.1 92.2,223.1 93.0,226.0 93.9,228.8 94.7,231.3 95.5,233.5 96.1,235.1 96.6,236.3 97.0,237.2 97.7,238.4 98.8,240.2 100.3,242.8 102.2,245.9 104.3,249.3 106.5,252.5 108.8,255.3 111.2,257.5 113.7,259.5 116.4,261.2 118.9,262.7 121.4,264.2 123.7,265.5 125.8,266.6 127.8,267.6 130.0,268.6 132.3,269.5 134.7,270.4 137.2,271.2 139.7,272.0 142.5,272.8 145.6,273.5 149.1,274.2 152.8,274.9 156.8,275.6 160.9,276.2 165.0,276.5 169.2,276.6 173.7,276.5 178.1,276.3 182.3,276.0 185.9,275.8 188.7,275.7 190.8,275.5 192.7,275.4 194.9,275.2 198.0,275.0 202.2,274.7 207.1,274.5 212.4,274.1 217.8,273.8 223.0,273.5 228.0,273.2 233.1,272.9 238.1,272.5 243.2,272.2 248.2,271.8 253.2,271.4 258.2,271.0 263.3,270.6 268.3,270.1 273.3,269.5 278.4,268.8 283.6,267.9 288.7,267.0 293.7,266.1 298.4,265.3 302.8,264.5 306.9,263.7 310.8,263.0 314.6,262.2 318.4,261.5 322.0,260.8 325.3,260.0 328.5,259.3 332.0,258.5 336.0,257.8 340.6,257.1 345.6,256.5 350.9,255.8 356.1,255.0 361.1,254.0 365.9,252.7 370.7,251.2 375.4,249.5 379.8,247.9 383.7,246.5 387.0,245.3 389.9,244.3 392.4,243.3 394.9,242.4 397.5,241.4 400.2,240.5 402.7,239.6 405.3,238.8 408.1,237.7 411.3,236.4 415.0,234.8 419.2,232.9 423.4,230.8 427.6,228.6 431.3,226.4 434.6,224.0 437.8,221.4 440.7,218.8 443.2,216.2 445.1,213.8 446.3,211.7 446.9,209.8 447.0,207.9 447.0,206.0 446.9,203.8 446.6,201.5 445.8,199.2 445.0,196.6 444.7,193.6 445.1,190.0 446.7,185.3 449.1,179.7 451.9,173.8 454.5,168.2 456.4,163.6 457.6,160.1 458.3,157.2 458.8,154.8 458.9,152.8 458.9,151.1 458.6,149.9 457.8,149.2 456.9,148.8 456.0,148.2 455.2,147.0 454.6,145.1 454.1,142.9 453.6,140.3 452.9,137.8 451.9,135.3 450.7,133.0 449.2,130.7 447.6,128.4 445.7,126.0 443.5,123.6 441.0,121.1 438.2,118.6 435.2,115.9 431.9,113.2 428.5,110.2 424.7,106.8 420.6,103.1 416.4,99.3 412.2,95.7 408.4,92.6 404.9,90.2 401.7,88.2 398.6,86.4 395.6,84.7 392.7,82.7 389.8,80.3 386.8,77.8 384.0,75.1 381.4,72.7 379.1,70.6 377.2,69.0 375.7,67.6 374.3,66.5 372.9,65.3 371.4,64.0 369.6,62.4 367.8,60.7 365.9,59.0 363.9,57.3 362.1,55.8 360.3,54.6 358.6,53.6 356.9,52.6 355.2,51.6 353.4,50.4 351.5,49.0 349.6,47.4 347.6,45.8 345.6,44.1 343.5,42.5 341.5,41.1 339.7,39.8 337.7,38.5 335.3,36.8 332.4,34.5 328.4,31.1 323.4,26.8 318.2,22.3 313.7,18.3 310.5,15.5"/>
<polyline points="180.8,14.0 177.9,20.2 173.8,29.1 169.1,39.2 164.4,49.4 160.4,58.2 157.1,65.7 154.1,72.7 151.3,79.3 148.8,85.3 146.5,90.8 144.5,95.6 142.8,99.7 141.3,103.3 139.8,106.7 138.2,110.1 136.5,113.4 134.7,116.4 133.0,119.4 131.2,122.4 129.3,125.8 127.3,129.6 125.1,133.7 123.0,137.9 120.9,142.0 119.2,145.9 117.7,149.5 116.5,153.1 115.4,156.5 114.5,159.8 113.8,163.0 113.3,166.2 113.0,169.2 112.9,172.2 113.0,175.1 113.2,178.0 113.6,180.8 114.2,183.5 114.9,186.1 115.6,188.7 116.4,191.2 117.3,193.7 118.2,196.3 119.2,198.7 120.0,201.1 120.5,203.4 120.4,205.5 120.0,207.6 119.3,209.5 118.9,211.4 118.9,213.4 119.4,215.4 120.2,217.3 121.2,219.3 122.5,221.3 123.9,223.5 125.6,225.9 127.5,228.5 129.5,231.2 131.7,233.7 133.9,236.0 136.1,237.9 138.3,239.7 140.6,241.2 143.0,242.7 145.6,244.0 148.4,245.2 151.4,246.4 154.5,247.4 157.5,248.3 160.4,249.0 162.8,249.6 165.0,250.0 167.1,250.3 169.6,250.6 172.9,250.8 177.2,251.0 182.3,251.1 187.7,251.1 193.1,251.2 198.0,251.2 202.3,251.3 206.2,251.3 210.1,251.3 213.9,251.3 218.0,251.2 222.4,251.0 227.0,250.7 231.6,250.3 236.2,249.9 240.6,249.6 244.7,249.4 248.6,249.2 252.4,249.0 256.4,248.7 260.7,248.0 265.4,247.0 270.4,245.6 275.5,244.1 280.7,242.6 285.8,241.2 290.8,239.9 295.8,238.7 300.9,237.4 305.9,236.2 310.9,234.9 316.2,233.6 321.7,232.1 327.1,230.7 332.0,229.5 336.0,228.4 338.7,227.7 340.5,227.2 341.8,226.8 343.1,226.3 345.0,225.7 347.5,224.8 350.3,223.8 353.2,222.7 356.2,221.7 359.1,220.8 362.1,220.1 365.2,219.4 368.3,218.8 371.1,218.3 373.6,217.6 375.4,217.0 376.8,216.5 378.0,216.0 379.3,215.1 381.2,213.8 384.0,211.9 387.4,209.4 391.0,206.7 394.1,203.9 396.2,201.3 396.9,198.8 396.6,196.4 395.8,193.9 395.1,191.4 395.0,188.7 395.5,185.9 396.2,183.0 397.2,180.0 398.4,176.9 400.0,173.7 402.0,170.3 404.3,166.8 406.9,163.3 409.6,159.7 412.1,156.1 414.7,152.3 417.5,148.3 420.2,144.3 422.6,141.0 424.2,138.6 423.7,137.3 422.9,135.5 422.0,133.4 421.0,131.1 419.8,129.0 418.4,127.0 416.8,125.0 415.1,122.9 413.4,120.7 411.7,118.5 410.1,116.1 408.4,113.5 406.8,110.8 405.1,108.3 403.4,106.0 401.7,104.0 400.0,102.2 398.3,100.5 396.5,98.8 394.6,97.0 392.5,94.9 390.2,92.7 387.9,90.4 385.7,88.3 383.6,86.5 381.8,85.1 380.1,84.1 378.6,83.3 376.9,82.3 375.0,81.0 372.8,79.3 370.4,77.2 367.9,75.1 365.4,73.0 363.2,71.2 361.3,69.7 359.7,68.4 358.2,67.2 356.5,65.9 354.5,64.6 352.1,63.2 349.4,61.7 346.5,60.2 343.6,58.6 340.8,56.9 337.9,55.0 334.9,52.9 331.9,50.7 329.2,48.7 327.0,47.1 325.4,45.9 324.3,45.0 323.4,44.2 322.6,43.5 321.6,42.7 320.4,41.9 319.1,41.1 317.7,40.4 316.4,39.4 315.0,38.3 313.7,37.0 312.5,35.5 311.3,33.8 309.8,31.9 307.8,29.8 305.0,27.1 301.6,23.8 298.0,20.5 294.8,17.5 292.6,15.5"/>
<polygon points="366.1,126.5 364.8,129.1 363.1,132.7 361.0,136.9 358.6,141.2 356.2,145.2 353.6,148.8 350.7,152.4 347.7,155.9 344.8,159.4 341.9,162.7 339.2,166.0 336.6,169.1 334.0,172.2 331.4,175.2 328.8,178.1 326.2,180.9 323.5,183.6 320.8,186.2 318.3,188.7 315.9,191.2 313.8,193.7 311.8,196.1 309.9,198.4 308.0,200.6 305.9,202.5 303.6,204.1 301.2,205.4 298.6,206.5 296.0,207.6 293.3,208.8 290.5,210.1 287.7,211.5 284.8,212.9 281.7,214.1 278.3,215.1 274.7,215.8 271.0,216.3 267.0,216.7 262.8,217.1 258.2,217.6 253.2,218.3 247.9,219.0 242.4,219.8 236.6,220.4 230.6,220.9 224.1,221.1 217.0,221.2 209.8,221.1 203.3,221.0 198.0,220.9 194.2,220.8 191.5,220.7 189.5,220.6 187.6,220.4 185.4,220.1 182.9,219.8 180.4,219.4 177.9,219.0 175.4,218.4 172.9,217.6 170.4,216.7 167.8,215.7 165.2,214.4 162.7,213.0 160.4,211.3 158.2,209.2 156.0,206.9 154.0,204.3 152.0,201.6 150.3,198.8 148.7,196.0 147.3,193.1 146.1,190.0 145.0,186.9 144.0,183.7 143.2,180.4 142.4,177.0 141.9,173.4 141.5,169.8 141.5,166.1 141.8,162.2 142.3,158.0 143.1,153.9 144.1,149.8 145.3,146.1 146.7,142.9 148.2,140.1 150.0,137.4 151.9,134.5 154.1,131.0 156.5,126.8 159.3,122.1 162.2,117.2 165.1,112.1 168.0,107.0 170.9,101.8 173.9,96.3 176.8,90.8 179.6,85.5 182.2,80.8 184.5,76.6 186.5,72.8 188.5,69.3 190.3,66.1 192.0,63.0 193.7,60.2 195.2,57.7 196.7,55.3 198.1,53.1 199.5,51.0 200.7,49.0 201.7,47.1 202.7,45.3 204.0,43.5 206.0,41.5 208.7,39.2 211.9,36.8 215.5,34.3 219.3,32.0 223.1,30.0 227.0,28.4 231.1,27.1 235.3,26.0 239.4,25.1 243.2,24.3 246.7,23.7 249.9,23.3 253.0,23.1 256.1,23.0 259.5,23.1 263.3,23.4 267.4,23.8 271.6,24.4 275.3,25.2 278.3,26.1 280.3,27.1 281.5,28.2 282.3,29.5 283.2,31.1 284.6,33.1 286.5,35.7 288.5,38.7 290.8,42.0 293.2,45.3 295.8,48.2 298.7,50.8 302.1,53.4 305.5,55.8 308.5,57.8 310.9,59.5 312.4,60.6 313.3,61.2 313.8,61.6 314.3,61.9 315.0,62.4 316.0,63.0 317.1,63.5 318.2,64.1 319.4,64.8 320.5,65.7 321.5,66.8 322.5,68.2 323.6,69.6 324.7,71.0 326.0,72.3 327.5,73.5 329.2,74.5 331.1,75.6 332.9,76.7 334.7,77.8 336.4,79.0 338.2,80.3 339.9,81.6 341.7,82.9 343.5,84.3 345.4,85.5 347.4,86.6 349.4,87.9 351.3,89.4 352.9,91.4 354.2,94.1 355.3,97.2 356.2,100.7 357.2,104.3 358.4,107.9 359.9,111.8 361.7,116.1 363.5,120.3 365.0,123.9 366.1,126.5"/>
</g></g>
<polyline points="68.0,206.3 78.8,186.2 87.6,156.1 93.9,131.0 105.0,92.0 114.4,53.5 118.8,35.0 133.3,14.5 322.0,14.5 345.1,22.6 366.7,31.2 377.1,42.2 388.7,54.5 400.8,68.6 438.0,104.4 460.2,118.2 480.3,129.0" fill="none" stroke="#000" stroke-width="3.9" stroke-linejoin="miter"/>
<g font-family="Liberation Sans, Arial, sans-serif" font-size="16.5" fill="#000" stroke="#000" stroke-width="0.25" text-anchor="middle">
<text transform="translate(136.6,60.7) rotate(-68) scale(0.95,1.02)" y="5.9">0.33</text>
<text transform="translate(146.5,90.8) rotate(-66) scale(0.95,1.02)" y="5.9">0.34</text>
<text transform="translate(167.0,107.0) rotate(-62) scale(0.95,1.02)" y="5.9">0.35</text>
<text transform="translate(295.8,48.2) rotate(42) scale(0.95,1.02)" y="5.9">0.35</text>
<text transform="translate(340.8,56.9) rotate(37) scale(0.95,1.02)" y="5.9">0.34</text>
<text transform="translate(392.7,82.7) rotate(40) scale(0.95,1.02)" y="5.9">0.33</text>
<text transform="translate(214.3,222.6) rotate(0) scale(0.95,1.02)" y="5.9">0.35</text>
<text transform="translate(182.0,252.0) rotate(3) scale(0.95,1.02)" y="5.9">0.34</text>
<text transform="translate(359.1,223.6) rotate(-20) scale(0.95,1.02)" y="5.9">0.34</text>
<text transform="translate(397.5,241.4) rotate(-20) scale(0.95,1.02)" y="5.9">0.33</text>
<text transform="translate(436.4,250.2) rotate(-17) scale(0.95,1.02)" y="5.9">0.32</text>
<text transform="translate(108.8,255.3) rotate(50) scale(0.95,1.02)" y="5.9">0.33</text>
<text transform="translate(87.1,294.3) rotate(40) scale(0.95,1.02)" y="5.9">0.31</text>
<text transform="translate(142.5,295.4) rotate(8) scale(0.95,1.02)" y="5.9">0.32</text>
<text transform="translate(178.4,326.8) rotate(-3) scale(0.95,1.02)" y="5.9">0.3</text>
<text transform="translate(411.3,283.4) rotate(-12) scale(0.95,1.02)" y="5.9">0.31</text>
<text transform="translate(421.3,297.9) rotate(-12) scale(0.95,1.02)" y="5.9">0.3</text>
<text transform="translate(231.9,343.3) rotate(-4) scale(0.95,1.02)" y="5.9">0.28</text>
<text transform="translate(350.4,364.5) rotate(-5) scale(0.95,1.02)" y="5.9">0.24</text>
<text transform="translate(100.1,385.2) rotate(3) scale(0.95,1.02)" y="5.9">0.22</text>
<text transform="translate(152.8,394.8) rotate(2) scale(0.95,1.02)" y="5.9">0.2</text>
<text transform="translate(408.3,372.7) rotate(-5) scale(0.95,1.02)" y="5.9">0.22</text>
<text transform="translate(455.9,381.0) rotate(-5) scale(0.95,1.02)" y="5.9">0.2</text>
</g>
<polyline points="63.6,396.3 68.0,391.8 84.4,375.0 95.6,357.1 104.5,337.0 113.5,316.8 122.4,301.2 131.4,292.2 321.5,83.2 364.3,48.7 382.7,49.4 403.7,51.6 421.3,54.6 437.0,57.6 486.0,50.7" fill="none" stroke="#1795da" stroke-opacity="0.97" stroke-width="6.7" stroke-linejoin="round"/>
<g stroke="#000" stroke-opacity="0.13" stroke-width="1">
<line x1="83.9" y1="14.1" x2="83.9" y2="430.4"/>
<line x1="163.1" y1="14.1" x2="163.1" y2="430.4"/>
<line x1="242.4" y1="14.1" x2="242.4" y2="430.4"/>
<line x1="321.7" y1="14.1" x2="321.7" y2="430.4"/>
<line x1="401.0" y1="14.1" x2="401.0" y2="430.4"/>
<line x1="480.3" y1="14.1" x2="480.3" y2="430.4"/>
<line x1="68" y1="388.8" x2="480.3" y2="388.8"/>
<line x1="68" y1="347.1" x2="480.3" y2="347.1"/>
<line x1="68" y1="305.5" x2="480.3" y2="305.5"/>
<line x1="68" y1="263.9" x2="480.3" y2="263.9"/>
<line x1="68" y1="222.2" x2="480.3" y2="222.2"/>
<line x1="68" y1="180.6" x2="480.3" y2="180.6"/>
<line x1="68" y1="139.0" x2="480.3" y2="139.0"/>
<line x1="68" y1="97.4" x2="480.3" y2="97.4"/>
<line x1="68" y1="55.7" x2="480.3" y2="55.7"/>
</g>
</g>
<g stroke="#000" stroke-width="1.2" fill="none">
<polyline points="68,14.1 68,430.4 480.3,430.4"/>
<line x1="68" y1="14.1" x2="480.3" y2="14.1"/>
<line x1="83.9" y1="430.4" x2="83.9" y2="426.4"/>
<line x1="83.9" y1="14.1" x2="83.9" y2="18.1"/>
<line x1="163.1" y1="430.4" x2="163.1" y2="426.4"/>
<line x1="163.1" y1="14.1" x2="163.1" y2="18.1"/>
<line x1="242.4" y1="430.4" x2="242.4" y2="426.4"/>
<line x1="242.4" y1="14.1" x2="242.4" y2="18.1"/>
<line x1="321.7" y1="430.4" x2="321.7" y2="426.4"/>
<line x1="321.7" y1="14.1" x2="321.7" y2="18.1"/>
<line x1="401.0" y1="430.4" x2="401.0" y2="426.4"/>
<line x1="401.0" y1="14.1" x2="401.0" y2="18.1"/>
<line x1="480.3" y1="430.4" x2="480.3" y2="426.4"/>
<line x1="480.3" y1="14.1" x2="480.3" y2="18.1"/>
<line x1="68" y1="430.4" x2="72" y2="430.4"/>
<line x1="68" y1="388.8" x2="72" y2="388.8"/>
<line x1="68" y1="347.1" x2="72" y2="347.1"/>
<line x1="68" y1="305.5" x2="72" y2="305.5"/>
<line x1="68" y1="263.9" x2="72" y2="263.9"/>
<line x1="68" y1="222.2" x2="72" y2="222.2"/>
<line x1="68" y1="180.6" x2="72" y2="180.6"/>
<line x1="68" y1="139.0" x2="72" y2="139.0"/>
<line x1="68" y1="97.4" x2="72" y2="97.4"/>
<line x1="68" y1="55.7" x2="72" y2="55.7"/>
<line x1="68" y1="14.1" x2="72" y2="14.1"/>
</g>
<g stroke="#168fd1" stroke-width="1.2" fill="none">
<line x1="480.3" y1="13.5" x2="480.3" y2="431.0"/>
<line x1="480.3" y1="430.4" x2="476.3" y2="430.4"/>
<line x1="480.3" y1="388.8" x2="476.3" y2="388.8"/>
<line x1="480.3" y1="347.1" x2="476.3" y2="347.1"/>
<line x1="480.3" y1="305.5" x2="476.3" y2="305.5"/>
<line x1="480.3" y1="263.9" x2="476.3" y2="263.9"/>
<line x1="480.3" y1="222.2" x2="476.3" y2="222.2"/>
<line x1="480.3" y1="180.6" x2="476.3" y2="180.6"/>
<line x1="480.3" y1="139.0" x2="476.3" y2="139.0"/>
<line x1="480.3" y1="97.4" x2="476.3" y2="97.4"/>
<line x1="480.3" y1="55.7" x2="476.3" y2="55.7"/>
<line x1="480.3" y1="14.1" x2="476.3" y2="14.1"/>
</g>
<g font-family="Liberation Serif, Times New Roman, serif" font-size="19" fill="#000" stroke="#000" stroke-width="0.25">
<text x="60" y="436.3" text-anchor="end">0</text>
<text x="60" y="394.7" text-anchor="end">20</text>
<text x="60" y="353.0" text-anchor="end">40</text>
<text x="60" y="311.4" text-anchor="end">60</text>
<text x="60" y="269.8" text-anchor="end">80</text>
<text x="60" y="228.2" text-anchor="end">100</text>
<text x="60" y="186.5" text-anchor="end">120</text>
<text x="60" y="144.9" text-anchor="end">140</text>
<text x="60" y="103.3" text-anchor="end">160</text>
<text x="60" y="61.6" text-anchor="end">180</text>
<text x="60" y="20.0" text-anchor="end">200</text>
<text x="83.9" y="455" text-anchor="middle">1000</text>
<text x="163.1" y="455" text-anchor="middle">2000</text>
<text x="242.4" y="455" text-anchor="middle">3000</text>
<text x="321.7" y="455" text-anchor="middle">4000</text>
<text x="401.0" y="455" text-anchor="middle">5000</text>
<text x="480.3" y="455" text-anchor="middle">6000</text>
</g>
<g font-family="Liberation Serif, Times New Roman, serif" font-size="19" fill="#168fd1" stroke="#168fd1" stroke-width="0.3">
<text x="488.2" y="436.4">0</text>
<text x="488.2" y="394.8">10</text>
<text x="488.2" y="353.1">20</text>
<text x="488.2" y="311.5">30</text>
<text x="488.2" y="269.9">40</text>
<text x="488.2" y="228.2">50</text>
<text x="488.2" y="186.6">60</text>
<text x="488.2" y="145.0">70</text>
<text x="488.2" y="103.4">80</text>
<text x="488.2" y="61.7">90</text>
<text x="488.2" y="20.1">100</text>
</g>
<g font-family="Liberation Serif, Times New Roman, serif" font-size="21.3">
<text x="274" y="483" text-anchor="middle" fill="#000" stroke="#000" stroke-width="0.25">Speed (rpm)</text>
<text transform="translate(20.7,223.3) rotate(-90)" text-anchor="middle" fill="#000" stroke="#000" stroke-width="0.25">Torque (Nm)</text>
<text transform="translate(542.2,222.7) rotate(-90)" text-anchor="middle" fill="#168fd1" stroke="#168fd1" stroke-width="0.3">Power (kW)</text>
</g>
</svg>
</body></html>
